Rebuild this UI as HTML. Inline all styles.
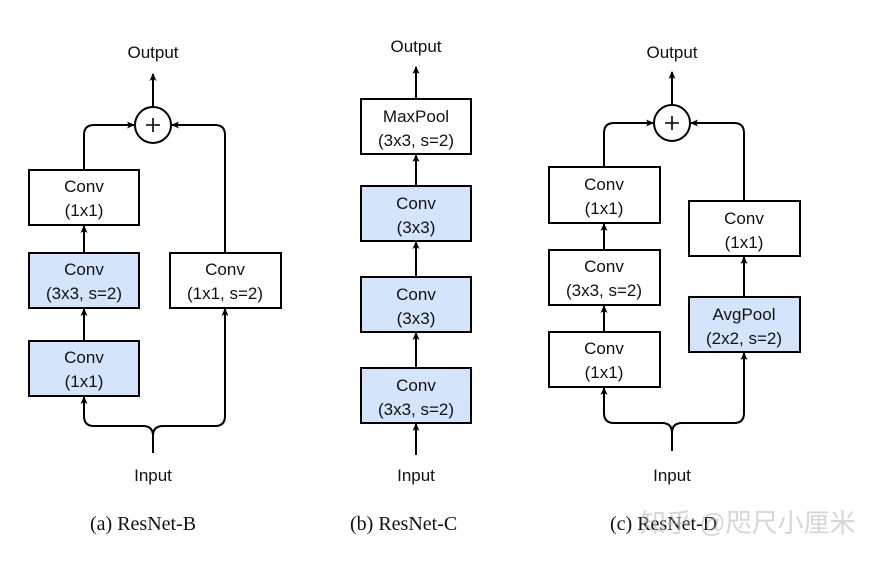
<!DOCTYPE html>
<html><head><style>html,body{margin:0;padding:0;background:#fff}</style></head><body>
<svg width="874" height="556" viewBox="0 0 874 556" xmlns="http://www.w3.org/2000/svg" font-family="Liberation Sans, sans-serif">
<defs><marker id="a" markerWidth="8" markerHeight="8" refX="7" refY="4" orient="auto" markerUnits="userSpaceOnUse"><path d="M0,0.5 L8,4 L0,7.5 L2,4 Z" fill="#000"/></marker></defs>
<g stroke="#000" stroke-width="2" fill="none">
<rect x="29" y="170" width="110" height="55" fill="#fff"/>
<rect x="29" y="253" width="110" height="55" fill="#d4e4fa"/>
<rect x="29" y="341" width="110" height="55" fill="#d4e4fa"/>
<rect x="170" y="253" width="111" height="55" fill="#fff"/>
<circle cx="153" cy="125" r="18" fill="#fff"/>
<path d="M153,453 V436 Q153,426 143,426 H94 Q84,426 84,416 V397" marker-end="url(#a)"/>
<path d="M153,436 Q153,426 163,426 H215 Q225,426 225,416 V309" marker-end="url(#a)"/>
<path d="M84,341 V309" marker-end="url(#a)"/>
<path d="M84,253 V226" marker-end="url(#a)"/>
<path d="M84,170 V135 Q84,125 94,125 H134" marker-end="url(#a)"/>
<path d="M225,253 V135 Q225,125 215,125 H172" marker-end="url(#a)"/>
<path d="M153,107 V74" marker-end="url(#a)"/>
<rect x="361" y="99" width="110" height="55" fill="#fff"/>
<rect x="361" y="186" width="110" height="55" fill="#d4e4fa"/>
<rect x="361" y="277" width="110" height="55" fill="#d4e4fa"/>
<rect x="361" y="368" width="110" height="55" fill="#d4e4fa"/>
<path d="M416,455 V424" marker-end="url(#a)"/>
<path d="M416,368 V333" marker-end="url(#a)"/>
<path d="M416,277 V242" marker-end="url(#a)"/>
<path d="M416,186 V155" marker-end="url(#a)"/>
<path d="M416,99 V67" marker-end="url(#a)"/>
<rect x="549" y="167" width="111" height="56" fill="#fff"/>
<rect x="549" y="250" width="111" height="55" fill="#fff"/>
<rect x="549" y="332" width="111" height="55" fill="#fff"/>
<rect x="689" y="201" width="111" height="55" fill="#fff"/>
<rect x="689" y="297" width="111" height="55" fill="#d4e4fa"/>
<circle cx="672" cy="123" r="18" fill="#fff"/>
<path d="M672,451 V433 Q672,423 662,423 H614 Q604,423 604,413 V388" marker-end="url(#a)"/>
<path d="M672,433 Q672,423 682,423 H734 Q744,423 744,413 V353" marker-end="url(#a)"/>
<path d="M744,297 V257" marker-end="url(#a)"/>
<path d="M604,332 V306" marker-end="url(#a)"/>
<path d="M604,250 V224" marker-end="url(#a)"/>
<path d="M604,167 V133 Q604,123 614,123 H653" marker-end="url(#a)"/>
<path d="M744,201 V133 Q744,123 734,123 H691" marker-end="url(#a)"/>
<path d="M672,105 V72" marker-end="url(#a)"/>
</g>
<g stroke="#000" stroke-width="1.6">
<path d="M146,125 H160 M153,118 V132"/>
<path d="M665,123 H679 M672,116 V130"/>
</g>
<g font-size="17" text-anchor="middle" fill="#111">
<text x="153" y="58">Output</text>
<text x="153" y="481">Input</text>
<text x="84" y="192">Conv</text><text x="84" y="216">(1x1)</text>
<text x="84" y="275">Conv</text><text x="84" y="299">(3x3, s=2)</text>
<text x="84" y="363">Conv</text><text x="84" y="387">(1x1)</text>
<text x="225" y="275">Conv</text><text x="225" y="299">(1x1, s=2)</text>
<text x="416" y="52">Output</text>
<text x="416" y="481">Input</text>
<text x="416" y="122">MaxPool</text><text x="416" y="146">(3x3, s=2)</text>
<text x="416" y="209">Conv</text><text x="416" y="233">(3x3)</text>
<text x="416" y="300">Conv</text><text x="416" y="324">(3x3)</text>
<text x="416" y="391">Conv</text><text x="416" y="415">(3x3, s=2)</text>
<text x="672" y="58">Output</text>
<text x="672" y="481">Input</text>
<text x="604" y="190">Conv</text><text x="604" y="214">(1x1)</text>
<text x="604" y="272">Conv</text><text x="604" y="296">(3x3, s=2)</text>
<text x="604" y="354">Conv</text><text x="604" y="378">(1x1)</text>
<text x="744" y="224">Conv</text><text x="744" y="248">(1x1)</text>
<text x="744" y="320">AvgPool</text><text x="744" y="344">(2x2, s=2)</text>
</g>
<g font-family="Liberation Serif, serif" font-size="20" fill="#111">
<text x="90" y="530">(a) ResNet-B</text>
<text x="350" y="530">(b) ResNet-C</text>
<text x="610" y="530">(c) ResNet-D</text>
</g>
<text x="640" y="532" font-family="Liberation Sans, 'Noto Sans CJK SC', sans-serif" font-size="26" fill="#bbb" fill-opacity="0.6">知乎 @咫尺小厘米</text>
</svg>
</body></html>
